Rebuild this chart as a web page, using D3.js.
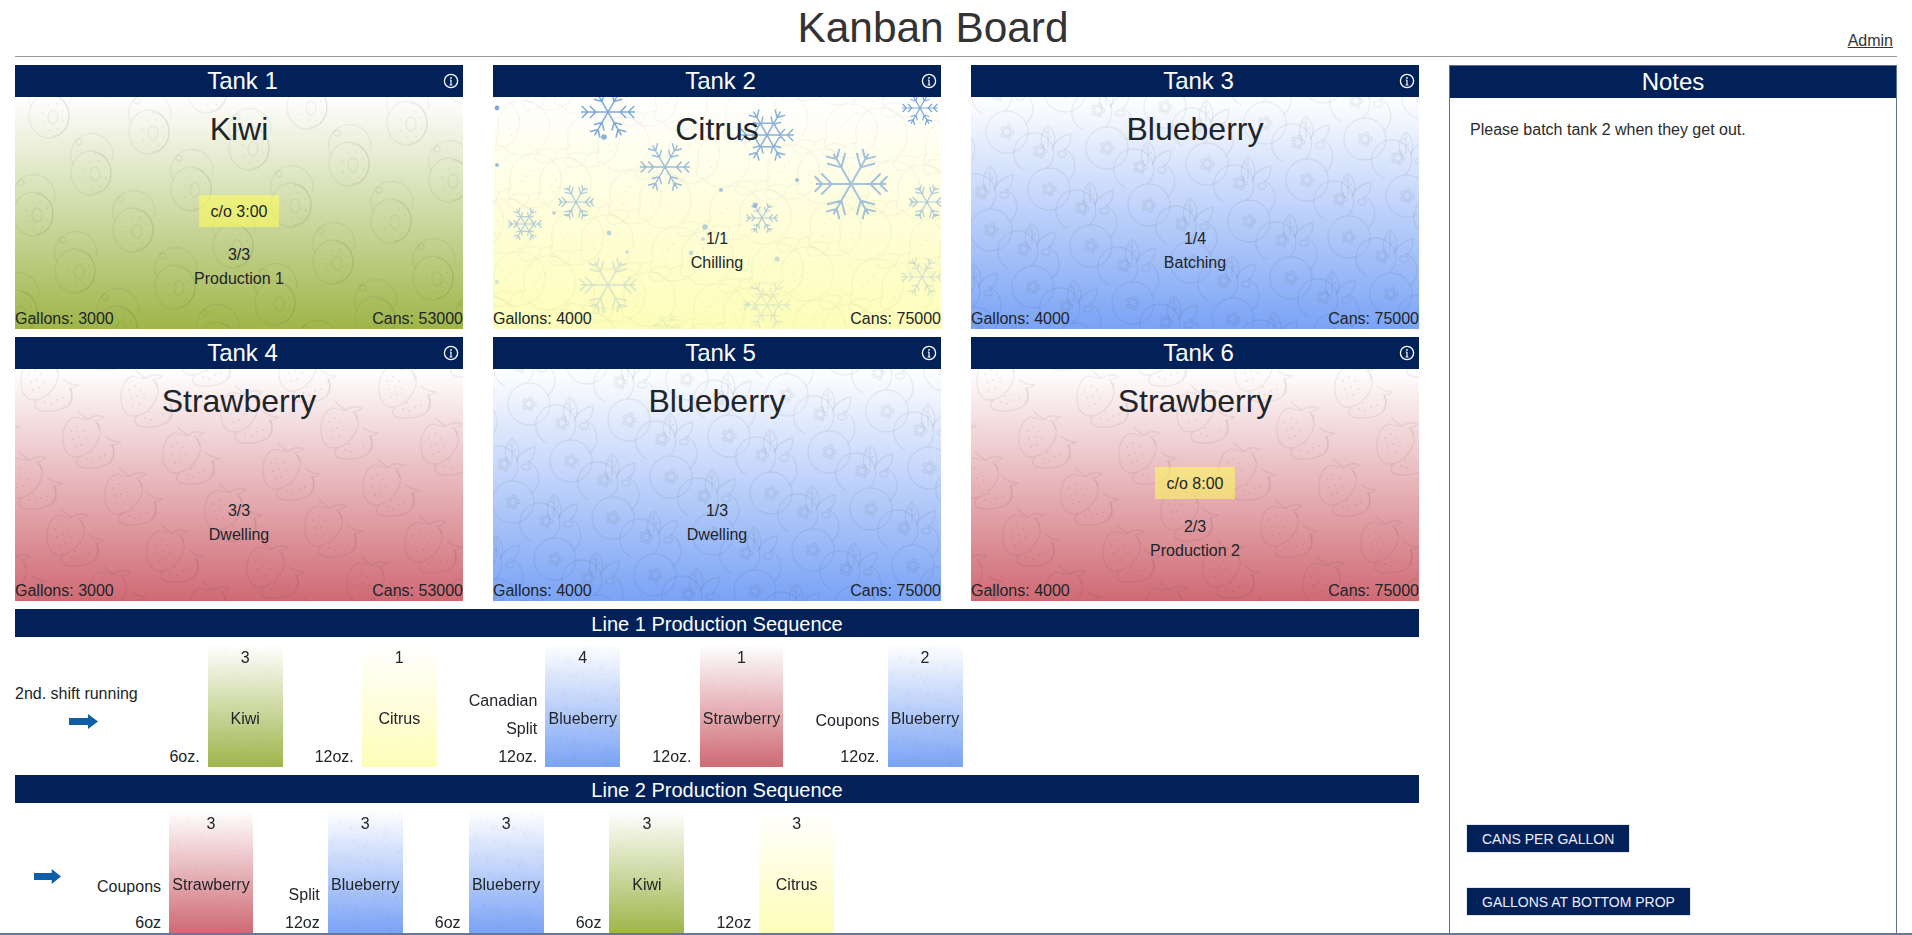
<!DOCTYPE html>
<html>
<head>
<meta charset="utf-8">
<title>Kanban Board</title>
<script src="https://cdnjs.cloudflare.com/ajax/libs/d3/7.8.5/d3.min.js"></script>
<style>
  html, body { margin: 0; padding: 0; background: #fff; overflow: hidden; }
  body { width: 1912px; height: 935px; position: relative; font-family: "Liberation Sans", Arial, sans-serif; font-size: 16px; color: #212529; }
  .title { position: absolute; left: 0; width: 1866px; top: 3px; text-align: center; font-size: 42.4px; line-height: 50px; color: #333; }
  .admin { position: absolute; right: 19px; top: 29px; line-height: 24px; color: #333; text-decoration: underline; }
  .rule { position: absolute; left: 15px; width: 1882px; top: 56px; height: 1px; background: #999; }
  .bottom { position: absolute; left: 0; width: 1912px; top: 933px; height: 2px; background: #65779b; }
  .head { position: absolute; background: #022159; color: #fff; text-align: center; }
  .tank { position: absolute; width: 448px; height: 264px; }
  .tank .head { left: 0; right: 0; top: 0; height: 32px; line-height: 32px; font-size: 24px; padding-left: 7px; }
  .tank .info { position: absolute; right: 4.5px; top: 8px; }
  .body { position: absolute; left: 0; right: 0; top: 32px; height: 232px; overflow: hidden; }
  .body svg, .card svg { position: absolute; left: 0; top: 0; width: 100%; height: 100%; }
  .body div { position: absolute; line-height: 24px; }
  .fruit { left: 0; right: 0; top: 8px; text-align: center; font-size: 32px; line-height: 48px !important; }
  .co { left: 50%; transform: translateX(-50%); top: 98px; height: 32px; line-height: 34px !important; padding: 0 11.5px; background: rgba(255,255,85,.55); white-space: nowrap; }
  .mid { left: 0; right: 0; text-align: center; }
  .gal { left: 0; bottom: -2px; }
  .can { right: 0; bottom: -2px; }
  .seqHead { left: 15px; width: 1404px; height: 28px; line-height: 30px; font-size: 20px; }
  .seq { position: absolute; left: 15px; height: 122px; display: flex; }
  .lead { position: relative; height: 122px; flex: none; }
  .lead span { position: absolute; left: 0; white-space: nowrap; line-height: 24px; top: 37px; }
  .lead svg { position: absolute; }
  .item { display: flex; margin-left: 32px; height: 122px; flex: none; }
  .labels { position: relative; top: 1.5px; display: flex; flex-direction: column; justify-content: flex-end; text-align: right; margin-right: 8px; white-space: nowrap; line-height: 28px; }
  .labels .size { margin-bottom: -2px; }
  .card { position: relative; height: 122px; min-width: 75px; box-sizing: border-box; padding: 0 3.3px; text-align: center; overflow: hidden; line-height: 24px; }
  .card div { position: relative; }
  .card .count { margin-top: 1px; height: 24px; }
  .card .name { margin-top: 37px; white-space: nowrap; }
  .notes { position: absolute; left: 1449px; top: 65px; width: 446px; height: 867px; border: 1px solid #5f7090; }
  .notes .head { left: 0; right: 0; top: 0; height: 32px; line-height: 32px; font-size: 24px; }
  .notes p { position: absolute; left: 20px; top: 52px; margin: 0; line-height: 24px; color: #2b2b2b; }
  .btn { position: absolute; left: 16px; box-sizing: border-box; height: 29px; line-height: 29px; padding: 0 15px; background: #022159; color: #eef; font-size: 14px; border: 1px solid #e4e7ee; white-space: nowrap; }
</style>
</head>
<body>
<script>
// board contents
const tankNames = ['Tank 1', 'Tank 2', 'Tank 3', 'Tank 4', 'Tank 5', 'Tank 6']
const tankFruits = ['Kiwi', 'Citrus', 'Blueberry', 'Strawberry', 'Blueberry', 'Strawberry']
const tankRatios = ['3/3', '1/1', '1/4', '3/3', '1/3', '2/3']
const tankStages = ['Production 1', 'Chilling', 'Batching', 'Dwelling', 'Dwelling', 'Production 2']
const tankGallons = [3000, 4000, 4000, 3000, 4000, 4000]
const tankCans = [53000, 75000, 75000, 53000, 75000, 75000]
const tankChangeovers = ['c/o 3:00', null, null, null, null, 'c/o 8:00']

const line1Fruits = ['Kiwi', 'Citrus', 'Blueberry', 'Strawberry', 'Blueberry']
const line1Counts = [3, 1, 4, 1, 2]
const line1Sizes = ['6oz.', '12oz.', '12oz.', '12oz.', '12oz.']
const line1Notes = [[], [], ['Canadian', 'Split'], [], ['Coupons']]

const line2Fruits = ['Strawberry', 'Blueberry', 'Blueberry', 'Kiwi', 'Citrus']
const line2Counts = [3, 3, 3, 3, 3]
const line2Sizes = ['6oz', '12oz', '6oz', '6oz', '12oz']
const line2Notes = [['Coupons'], ['Split'], [], [], []]

const fruitColors = { Kiwi: '#9fb54a', Citrus: '#fdfdb8', Blueberry: '#7aa3f5', Strawberry: '#cf6a74' }

const body = d3.select('body')

// small path helpers for the wallpaper
const ring = (x, y, rx, ry) => `M${x - rx},${y}A${rx},${ry} 0 1 1 ${x + rx},${y}A${rx},${ry} 0 1 1 ${x - rx},${y}Z`
const dots = pts => pts.map(p => `M${p[0]},${p[1]}h.1`).join('')
const flower = (x, y) => ring(x, y, 4.5, 4.5) + d3.range(5).map(i => {
  const a = i * Math.PI * 2 / 5
  return ring(x + 5 * Math.cos(a), y + 5 * Math.sin(a), 2, 2)
}).join('')
const lemon = (x, y) => `M${x - 20},${y + 18}c-8,2 -8,-8 -4,-12c-6,-20 10,-34 26,-33c16,1 26,15 24,31c-2,16 -20,26 -36,22c-4,-2 -8,-6 -10,-8z`
  + `M${x},${y - 24}c4,-10 14,-10 22,-6c0,8 -10,14 -18,12c-2,-2 -4,-4 -4,-6z`
  + `M${x + 22},${y - 30}c4,-2 8,-4 12,-3`

const kiwiSeeds = d3.range(8).map(i => [11 * Math.cos(i * Math.PI / 4 + .3), 14 * Math.sin(i * Math.PI / 4 + .3)])

// one repeat of each wallpaper, the tile origin and the seeds
const motifs = {
  Kiwi: {
    origin: [38, 20],
    lines: [
      ring(-4, -1, 20, 22), 'M-1,-21A17,20 0 0 1 -1,19', ring(0, 0, 5, 7), ring(-16, -32, 3, 3),
      'M-22,-10A21,21 0 1 1 17,-14',
    ],
    seeds: kiwiSeeds,
  },
  Citrus: {
    origin: [30, 31],
    lines: [lemon(0, 0), lemon(70, 12)],
    seeds: [[-14, 0], [-9, -5], [-4, -10], [-12, 7], [-6, 2], [56, 12], [61, 7], [66, 2], [58, 19]],
  },
  Blueberry: {
    origin: [36, 35],
    lines: [
      ring(0, 0, 21, 21), flower(0, 0),
      'M-24,-18A20,20 0 1 1 -2,-21',
      flower(-9, -38),
      'M14,-41A19,19 0 0 1 18,-8',
      ring(13, -35, 4.5, 3),
      'M-4,-39C-10,-46 -8,-58 -1,-64C6,-58 8,-48 3,-40M-1,-62L-1,-42M-1,-55L-5,-58M-1,-50L3,-53',
      'M4,-42C6,-48 14,-54 22,-55C22,-48 20,-42 15,-39',
    ],
    seeds: [],
  },
  Strawberry: {
    origin: [24, 9],
    lines: [
      'M-6,-18C-14,-16 -19,-6 -18,6C-17,16 -12,23 -4,22C6,21 16,12 19,0C20,-5 19,-9 16,-12',
      'M-4,-25C0,-20 4,-17 8,-16C12,-20 17,-20 23,-18C19,-15 17,-14 14,-14C17,-12 18,-8 18,-5M8,-16C4,-15 0,-16 -6,-18',
      'M-2,22C-7,28 -3,33 6,33C18,34 30,30 33,22C34,18 33,14 31,10',
      'M24,1C28,5 32,7 40,7C36,9 33,10 31,10C34,14 33,20 30,26',
    ],
    seeds: [[-10, -4], [-4, -8], [2, -4], [-8, 4], [-2, 2], [5, 4], [-6, 12], [0, 10], [6, 24], [12, 26], [18, 22], [10, 18], [24, 20]],
  },
}

// lattice the wallpapers repeat on
const stepA = [100, 16]
const stepB = [42, 57]

function paper(svg, fruit, w, h, k) {
  const motif = motifs[fruit]
  const cells = []
  d3.range(-6, 8).forEach(i => d3.range(-3, 7).forEach(j => {
    const x = motif.origin[0] + i * stepA[0] + j * stepB[0]
    const y = motif.origin[1] + i * stepA[1] + j * stepB[1]
    if (x * k > -90 && x * k < w + 90 && y * k > -90 && y * k < h + 90) cells.push([x, y])
  }))
  // the cards carry the same paper, only much smaller and fainter
  const ink = fruit === 'Citrus' ? .035 : (fruit === 'Kiwi' ? .055 : .07)
  const g = svg.append('g')
      .attr('transform', `scale(${k})`)
      .attr('opacity', k < 1 ? .7 : 1)
    .selectAll('g')
      .data(cells)
    .enter().append('g')
      .attr('transform', d => `translate(${d[0]},${d[1]})`)
  g.selectAll('path.l')
      .data(motif.lines)
    .enter().append('path')
      .attr('class', 'l')
      .attr('d', d => d)
      .attr('fill', 'none')
      .attr('stroke', `rgba(40,40,40,${ink})`)
      .attr('stroke-width', 1.3)
  g.append('path')
      .attr('d', dots(motif.seeds))
      .attr('fill', 'none')
      .attr('stroke', `rgba(40,40,40,${ink + .015})`)
      .attr('stroke-width', 1.8)
      .attr('stroke-linecap', 'round')
}

// the frost on a chilling tank
const flakeSpots = [
  [115, 15, 27, 0], [274, 38, 27, 1], [172, 70, 25, 0], [358, 87, 35, 2], [83, 105, 17, 2], [32, 127, 17, 1],
  [269, 121, 16, 0], [434, 105, 17, 2], [115, 188, 27, 2], [274, 208, 24, 1], [429, 180, 20, 0], [427, 11, 18, 0],
  [174, 230, 13, 2],
]
const frostDots = [
  [4, 11, 2.4], [4, 68, 2], [111, 40, 2.8], [228, 93, 2], [304, 83, 2], [262, 108, 2.6], [61, 116, 1.8],
  [116, 136, 2.4], [212, 130, 2.8], [210, 142, 1.8], [134, 155, 1.8], [198, 156, 2.4], [284, 162, 2.6],
  [4, 185, 2], [111, 214, 2.4], [255, 207, 2], [262, 212, 1.8],
]

function flakePath(r, kind) {
  const spoke = d3.range(6).map(i => {
    const a = i * Math.PI / 3
    const pt = (u, v) => [u * Math.cos(a) - v * Math.sin(a), u * Math.sin(a) + v * Math.cos(a)]
    const seg = (p, q) => `M${p[0]},${p[1]}L${q[0]},${q[1]}`
    let s = seg(pt(0, 0), pt(r, 0))
    const barbs = kind === 2 ? [[.55, .3], [.82, .22]] : [[.45, .22], [.75, .22]]
    barbs.forEach(b => {
      s += seg(pt(r * b[0], 0), pt(r * (b[0] + b[1]), r * b[1]))
      s += seg(pt(r * b[0], 0), pt(r * (b[0] + b[1]), -r * b[1]))
    })
    if (kind === 1) s += seg(pt(r * .5, 0), pt(r * .5 * Math.cos(Math.PI / 3), r * .5 * Math.sin(Math.PI / 3)))
    return s
  })
  return spoke.join('')
}

function frost(svg) {
  const frostOpacity = y => .95 - .85 * Math.min(1, y / 232)
  svg.append('g').selectAll('path')
      .data(flakeSpots)
    .enter().append('path')
      .attr('transform', d => `translate(${d[0]},${d[1]})`)
      .attr('d', d => flakePath(d[2], d[3]))
      .attr('fill', 'none')
      .attr('stroke', '#6f9fd4')
      .attr('stroke-width', d => Math.max(1.2, d[2] / 18))
      .attr('stroke-opacity', d => frostOpacity(d[1]))
  svg.append('g').selectAll('circle')
      .data(frostDots)
    .enter().append('circle')
      .attr('cx', d => d[0])
      .attr('cy', d => d[1])
      .attr('r', d => d[2])
      .attr('fill', '#6f9fd4')
      .attr('fill-opacity', d => frostOpacity(d[1]))
}

// page furniture
body.append('div').attr('class', 'title').text('Kanban Board')
body.append('div').attr('class', 'admin').text('Admin')
body.append('div').attr('class', 'rule')

// tank grid
const xCol = d3.scaleLinear().domain([0, 2]).range([15, 971])
const yRow = d3.scaleLinear().domain([0, 1]).range([65, 337])

const tank = body.selectAll('.tank')
    .data(tankNames.map((name, i) => ({
      name: name,
      fruit: tankFruits[i],
      ratio: tankRatios[i],
      stage: tankStages[i],
      gallons: tankGallons[i],
      cans: tankCans[i],
      co: tankChangeovers[i],
      col: i % 3,
      row: Math.floor(i / 3),
    })))
  .enter().append('div')
    .attr('class', 'tank')
    .style('left', d => xCol(d.col) + 'px')
    .style('top', d => yRow(d.row) + 'px')

tank.append('div')
    .attr('class', 'head')
    .text(d => d.name)

const info = tank.append('svg')
    .attr('class', 'info')
    .attr('width', 16)
    .attr('height', 16)
info.append('circle')
    .attr('cx', 8).attr('cy', 8).attr('r', 6.6)
    .attr('fill', 'none').attr('stroke', '#fff').attr('stroke-width', 1.3)
info.append('path')
    .attr('d', 'M8,7V12M6.6,12H9.4M6.8,7H8')
    .attr('fill', 'none').attr('stroke', '#fff').attr('stroke-width', 1.2)
info.append('circle')
    .attr('cx', 8).attr('cy', 4.9).attr('r', .9)
    .attr('fill', '#fff')

const tankBody = tank.append('div')
    .attr('class', 'body')
    .style('background', d => `linear-gradient(#fff, ${fruitColors[d.fruit]})`)

tankBody.each(function(d) {
  const svg = d3.select(this).append('svg')
  paper(svg, d.fruit, 448, 232, 1)
  if (d.stage === 'Chilling') frost(svg)
})

tankBody.append('div').attr('class', 'fruit').text(d => d.fruit)
tankBody.filter(d => d.co).append('div').attr('class', 'co').text(d => d.co)
tankBody.append('div').attr('class', 'mid')
    .style('top', d => (d.co ? 146 : 130) + 'px')
    .text(d => d.ratio)
tankBody.append('div').attr('class', 'mid')
    .style('top', d => (d.co ? 170 : 154) + 'px')
    .text(d => d.stage)
tankBody.append('div').attr('class', 'gal').text(d => 'Gallons: ' + d.gallons)
tankBody.append('div').attr('class', 'can').text(d => 'Cans: ' + d.cans)

// production sequences
function sequence(title, headTop, rowTop, fruits, counts, sizes, notes, lead) {
  body.append('div')
      .attr('class', 'head seqHead')
      .style('top', headTop + 'px')
      .text(title)

  const row = body.append('div')
      .attr('class', 'seq')
      .style('top', rowTop + 'px')

  const first = row.append('div')
      .attr('class', 'lead')
      .style('width', lead.width + 'px')
  if (lead.text) first.append('span').text(lead.text)
  first.append('svg')
      .attr('width', lead.arrow[1])
      .attr('height', 15)
      .attr('viewBox', '0 0 29 15')
      .attr('preserveAspectRatio', 'none')
      .style('left', lead.arrow[0] + 'px')
      .style('top', lead.arrow[2] + 'px')
    .append('path')
      .attr('d', 'M0,4H19V0L29,7.5L19,15V11H0Z')
      .attr('fill', '#0f5ea8')

  const item = row.selectAll('.item')
      .data(fruits.map((fruit, i) => ({ fruit: fruit, count: counts[i], size: sizes[i], notes: notes[i] })))
    .enter().append('div')
      .attr('class', 'item')

  const labels = item.append('div').attr('class', 'labels')
  labels.selectAll('.note')
      .data(d => d.notes)
    .enter().append('div')
      .attr('class', 'note')
      .style('margin-bottom', d => d === 'Coupons' ? '8px' : '0')
      .text(d => d)
  labels.append('div')
      .attr('class', 'size')
      .text(d => d.size)

  const card = item.append('div')
      .attr('class', 'card')
      .style('background', d => `linear-gradient(#fff, ${fruitColors[d.fruit]})`)
  card.each(function(d) {
    paper(d3.select(this).append('svg'), d.fruit, 90, 122, .33)
  })
  card.append('div').attr('class', 'count').text(d => d.count)
  card.append('div').attr('class', 'name').text(d => d.fruit)
}

sequence('Line 1 Production Sequence', 609, 645, line1Fruits, line1Counts, line1Sizes, line1Notes,
  { text: '2nd. shift running', width: 122.4, arrow: [53.5, 29, 69] })
sequence('Line 2 Production Sequence', 775, 811, line2Fruits, line2Counts, line2Sizes, line2Notes,
  { text: null, width: 50, arrow: [18.7, 27, 58] })

// notes panel
const notes = body.append('div').attr('class', 'notes')
notes.append('div').attr('class', 'head').text('Notes')
notes.append('p').text('Please batch tank 2 when they get out.')
notes.append('div').attr('class', 'btn').style('top', '758px').text('CANS PER GALLON')
notes.append('div').attr('class', 'btn').style('top', '821px').text('GALLONS AT BOTTOM PROP')

body.append('div').attr('class', 'bottom')
</script>
</body>
</html>
